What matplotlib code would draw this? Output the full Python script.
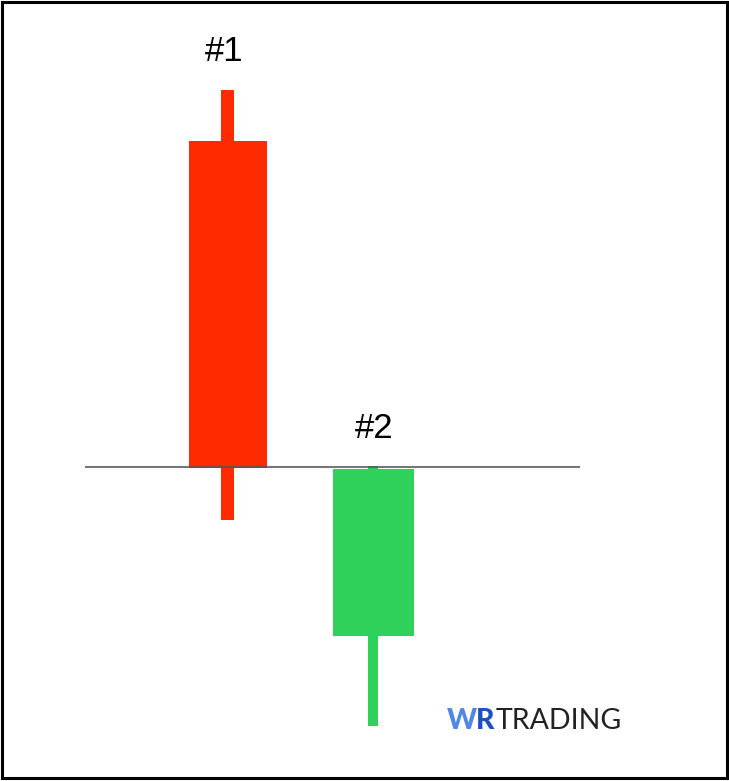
import matplotlib
matplotlib.use("Agg")
import matplotlib.pyplot as plt
from matplotlib.patches import Rectangle

# candle data (price units, arbitrary scale)
labels = ["#1", "#2"]
x_pos = [228, 373.5]
opens = [64.0, 31.25]
closes = [31.3, 14.5]
highs = [69.1, 31.5]
lows = [26.1, 5.5]
colors = ["#ff2a00", "#2fd15a"]
level = 31.35

body_widths = [78, 81]
wick_widths = [13, 10]

fig = plt.figure(figsize=(7.29, 7.81), dpi=100)
ax = fig.add_axes([0, 0, 1, 1])
ax.set_xlim(0, 729)
ax.set_ylim(0, 78.1)
ax.axis("off")

for i in range(len(labels)):
    # wick
    ax.bar(x_pos[i], highs[i] - lows[i], bottom=lows[i], width=wick_widths[i],
           color=colors[i], zorder=2)
    # body
    lo = min(opens[i], closes[i])
    ax.bar(x_pos[i], abs(opens[i] - closes[i]), bottom=lo, width=body_widths[i],
           color=colors[i], zorder=3)

# reference line (slightly see-through, darker over the red body)
ax.plot([86, 579], [level, level], color="#555555", alpha=0.8, lw=1.5, zorder=4)

# labels
ax.text(224, 72.95, labels[0], ha="center", va="center", fontsize=25,
        family="Liberation Sans", color="black")
ax.text(374, 35.2, labels[1], ha="center", va="center", fontsize=25,
        family="Liberation Sans", color="black")

# logo
fig.canvas.draw()
r = fig.canvas.get_renderer()
w = ax.text(447, 6.0, "W", ha="left", va="center", fontsize=20.5,
            family="Lato", fontweight="black", color="#4f86e8")
bb = w.get_window_extent(r)
r_x = ax.transData.inverted().transform((bb.x1 - 1, 0))[0]
rt = ax.text(r_x, 6.0, "R", ha="left", va="center", fontsize=20.5,
             family="Lato", fontweight="black", color="#1d4fbf")
bb = rt.get_window_extent(r)
t_x = ax.transData.inverted().transform((bb.x1 + 1, 0))[0]
ax.text(t_x, 6.0, "TRADING", ha="left", va="center", fontsize=20.5,
        family="Lato", color="#222222")

# frame
ax.add_patch(Rectangle((1.5 / 729, 3.5 / 781), 725 / 729, 776 / 781,
                       transform=ax.transAxes, fill=False, edgecolor="black",
                       lw=2.2, zorder=10))

fig.savefig("out.png", dpi=100, facecolor="white")
